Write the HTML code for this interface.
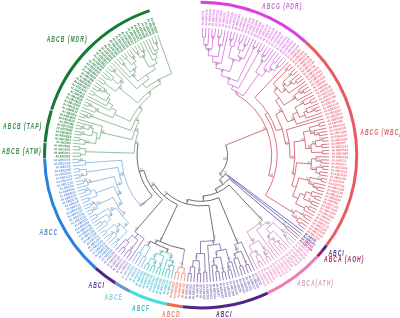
<!DOCTYPE html>
<html><head><meta charset="utf-8"><style>html,body{margin:0;padding:0;background:#fff;width:400px;height:318px;overflow:hidden}svg{display:block;filter:blur(0.3px)}</style></head><body>
<svg width="400" height="318" viewBox="0 0 400 318">
<rect width="400" height="318" fill="#fff"/>
<path d="M202.41 37.15L202.53 27.85M205.43 37.22L205.79 27.93M202.41 37.15A119.06 117.91 0 0 1 205.43 37.22M203.73 44.65L203.92 37.18M207.98 44.84L209.05 28.09M203.73 44.65A111.51 110.44 0 0 1 207.98 44.84M211.56 36.6L212.3 28.34M214.59 36.91L215.55 28.66M211.56 36.6A120.07 118.92 0 0 1 214.59 36.91M205.68 48.63L205.85 44.72M211.81 49.08L213.08 36.75M205.68 48.63A107.56 106.52 0 0 1 211.81 49.08M217.72 36.55L218.78 29.07M220.76 37.01L222.01 29.56M217.72 36.55A120.83 119.66 0 0 1 220.76 37.01M218.01 44.73L219.24 36.77M222.24 45.46L225.22 30.14M218.01 44.73A112.7 111.61 0 0 1 222.24 45.46M208.24 55.64L208.75 48.81M218.07 56.84L220.13 45.08M208.24 55.64A100.64 99.67 0 0 1 218.07 56.84M212.45 61.94L213.17 56.12M221.19 63.41L228.42 30.79M212.45 61.94A94.73 93.81 0 0 1 221.19 63.41M229.68 39.22L231.59 31.52M232.64 39.98L234.75 32.33M229.68 39.22A120.45 119.29 0 0 1 232.64 39.98M229.59 45.6L231.16 39.59M233.77 46.77L237.89 33.22M229.59 45.6A114.17 113.07 0 0 1 233.77 46.77M238.38 42.08L241 34.19M241.27 43.06L244.08 35.24M238.38 42.08A120.07 118.91 0 0 1 241.27 43.06M243.99 44.45L247.14 36.36M246.81 45.57L250.17 37.57M243.99 44.45A119.7 118.54 0 0 1 246.81 45.57M237.56 49.12L239.83 42.56M242.94 51.1L245.4 45.01M237.56 49.12A113.07 111.98 0 0 1 242.94 51.1M237.92 56.33L240.26 50.08M244.17 58.86L253.17 38.84M237.92 56.33A106.33 105.31 0 0 1 244.17 58.86M228.44 57.65L231.69 46.17M239.47 61.4L241.06 57.54M228.44 57.65A102.13 101.14 0 0 1 239.47 61.4M215.87 68.17L216.84 62.57M229.75 71.68L234.01 59.37M215.87 68.17A88.99 88.13 0 0 1 229.75 71.68M253.03 46.63L256.13 40.19M255.8 47.98L259.06 41.62M253.03 46.63A121.25 120.08 0 0 1 255.8 47.98M221.32 75.72L222.88 69.65M237.39 81.59L254.42 47.3M221.32 75.72A82.67 81.87 0 0 1 237.39 81.59M258 50.36L261.95 43.12M260.66 51.83L264.8 44.69M258 50.36A120.14 118.98 0 0 1 260.66 51.83M227.53 83.54L229.51 78.24M238.33 88.46L259.34 51.09M227.53 83.54A76.96 76.22 0 0 1 238.33 88.46M262.47 54.7L267.61 46.33M265.03 56.28L270.37 48.05M262.47 54.7A118.57 117.43 0 0 1 265.03 56.28M261.07 59.74L263.76 55.48M264.69 62.07L273.09 49.83M261.07 59.74A113.5 112.41 0 0 1 264.69 62.07M272.5 61.31L278.4 53.59M274.88 63.14L280.97 55.58M272.5 61.31A118.68 117.54 0 0 1 274.88 63.14M277.08 65.19L283.5 57.62M279.36 67.13L285.97 59.73M277.08 65.19A118.48 117.34 0 0 1 279.36 67.13M269.71 67.3L273.7 62.22M274.12 70.87L278.23 66.15M269.71 67.3A112.19 111.11 0 0 1 274.12 70.87M263.72 68.31L275.77 51.68M269.15 72.43L271.94 69.06M263.72 68.31A107.78 106.75 0 0 1 269.15 72.43M255.52 72.09L262.89 60.89M261.74 76.44L266.47 70.33M255.52 72.09A100 99.04 0 0 1 261.74 76.44M231.45 89.19L233.03 85.79M243.17 95.89L258.67 74.21M231.45 89.19A73.18 72.47 0 0 1 243.17 95.89" stroke="#d868dc" stroke-width="0.8" fill="none"/>
<path d="M286.46 68.45L290.74 64.12M288.65 70.63L293.03 66.41M286.46 68.45A122.34 121.16 0 0 1 288.65 70.63M290.44 73.17L295.27 68.75M292.5 75.44L297.45 71.14M290.44 73.17A121.87 120.7 0 0 1 292.5 75.44M295.41 80.96L301.62 76.09M297.28 83.35L303.61 78.65M295.41 80.96A120.54 119.37 0 0 1 297.28 83.35M290.66 80.94L299.57 73.59M293.44 84.37L296.35 82.15M290.66 80.94A116.86 115.74 0 0 1 293.44 84.37M283.14 81.73L291.48 74.3M287.23 86.49L292.07 82.65M283.14 81.73A110.66 109.59 0 0 1 287.23 86.49M283.14 85.83L285.22 84.08M288.81 93.04L305.53 81.25M283.14 85.83A107.93 106.89 0 0 1 288.81 93.04M273.26 83.65L287.56 69.53M281.49 92.89L286.05 89.38M273.26 83.65A102.15 101.16 0 0 1 281.49 92.89M302.97 90.51L309.17 86.59M304.59 93.09L310.88 89.33M302.97 90.51A121.1 119.93 0 0 1 304.59 93.09M298.21 90.03L307.38 83.9M300.63 93.73L303.79 91.8M298.21 90.03A117.39 116.26 0 0 1 300.63 93.73M294.12 95.28L299.44 91.87M297.4 100.64L312.53 92.11M294.12 95.28A111.05 109.98 0 0 1 297.4 100.64M273.89 91.31L277.52 88.14M284.06 105L295.8 97.94M273.89 91.31A97.32 96.38 0 0 1 284.06 105M309.9 100.64L315.61 97.79M311.26 103.39L317.03 100.69M309.9 100.64A122.07 120.89 0 0 1 311.26 103.39M302.57 101.05L314.1 94.93M304.57 104.92L310.59 102.01M302.57 101.05A115.37 114.26 0 0 1 304.57 104.92M314.57 108.66L319.66 106.58M315.72 111.53L320.87 109.58M314.57 108.66A122.94 121.75 0 0 1 315.72 111.53M306.02 109.03L318.39 103.62M307.71 113.02L315.15 110.09M306.02 109.03A114.93 113.82 0 0 1 307.71 113.02M303.74 112.33L306.88 111.02M306.03 118.2L321.99 112.6M303.74 112.33A111.52 110.45 0 0 1 306.03 118.2M295.02 107.33L303.59 102.98M299.53 117.31L304.93 115.25M295.02 107.33A105.74 104.72 0 0 1 299.53 117.31M292.62 114.38L297.41 112.26M296.46 124.23L323.04 115.65M292.62 114.38A100.5 99.53 0 0 1 296.46 124.23M275.7 100.54L279.28 97.93M287.56 121.97L294.67 119.25M275.7 100.54A92.87 91.98 0 0 1 287.56 121.97M318.8 123.46L324.9 121.83M319.57 126.43L325.71 124.95M318.8 123.46A122.14 120.96 0 0 1 319.57 126.43M318.93 132.79L327.09 131.25M319.46 135.76L327.65 134.43M318.93 132.79A120.15 118.99 0 0 1 319.46 135.76M313.93 130.78L326.44 128.1M314.78 135.05L319.2 134.27M313.93 130.78A115.66 114.54 0 0 1 314.78 135.05M309.26 127.48L319.2 124.95M310.67 133.64L314.38 132.91M309.26 127.48A111.88 110.8 0 0 1 310.67 133.64M322.72 138.36L328.14 137.61M323.11 141.42L328.55 140.81M322.72 138.36A122.98 121.79 0 0 1 323.11 141.42M321.65 144.64L328.87 144.02M321.88 147.67L329.11 147.23M321.65 144.64A121.21 120.04 0 0 1 321.88 147.67M315.34 140.83L322.92 139.89M315.92 146.59L321.78 146.16M315.34 140.83A115.33 114.22 0 0 1 315.92 146.59M322.33 150.7L329.27 150.45M322.4 153.75L329.35 153.68M322.33 150.7A121.51 120.34 0 0 1 322.4 153.75M310.86 144.18L315.66 143.71M311.37 152.48L322.38 152.23M310.86 144.18A110.5 109.44 0 0 1 311.37 152.48M303.38 132.03L310.01 130.55M305.79 148.66L311.19 148.33M303.38 132.03A105.09 104.07 0 0 1 305.79 148.66M321.31 159.81L329.25 160.12M321.15 162.83L329.08 163.34M321.31 159.81A120.5 119.34 0 0 1 321.15 162.83M316.15 156.71L329.34 156.9M316.01 161.05L321.23 161.32M316.15 156.71A115.27 114.16 0 0 1 316.01 161.05M323.08 166.04L328.83 166.55M322.76 169.1L328.49 169.76M323.08 166.04A122.68 121.5 0 0 1 322.76 169.1M319.84 171.8L328.07 172.96M319.38 174.78L327.57 176.14M319.84 171.8A120.14 118.98 0 0 1 319.38 174.78M316.65 166.92L322.93 167.57M315.89 172.72L319.62 173.29M316.65 166.92A116.37 115.25 0 0 1 315.89 172.72M311.64 158.73L316.1 158.88M310.79 169.12L316.31 169.82M311.64 158.73A110.8 109.74 0 0 1 310.79 169.12M321.83 178.32L326.99 179.31M321.19 181.34L326.33 182.47M321.83 178.32A123.19 122 0 0 1 321.19 181.34M317.79 186.83L324.77 188.73M316.94 189.75L323.87 191.82M317.79 186.83A121.21 120.05 0 0 1 316.94 189.75M313.94 182.75L325.59 185.61M312.8 186.99L317.37 188.29M313.94 182.75A116.45 115.33 0 0 1 312.8 186.99M310.05 177.48L321.52 179.83M308.58 183.6L313.39 184.87M310.05 177.48A111.48 110.4 0 0 1 308.58 183.6M315.65 195.75L321.83 197.94M314.57 198.62L320.69 200.96M315.65 195.75A121.88 120.71 0 0 1 314.57 198.62M312.21 191.41L322.89 194.9M310.73 195.57L315.12 197.19M312.21 191.41A117.2 116.07 0 0 1 310.73 195.57M312.07 200.9L319.48 203.96M310.87 203.68L318.19 206.92M312.07 200.9A120.43 119.27 0 0 1 310.87 203.68M306.32 191.7L311.49 193.49M303.49 198.88L311.48 202.29M306.32 191.7A111.73 110.65 0 0 1 303.49 198.88M309.43 206.34L316.83 209.84M308.08 209.05L315.39 212.73M309.43 206.34A120.25 119.09 0 0 1 308.08 209.05M305.66 206.19L308.76 207.7M303.62 210.09L313.88 215.59M305.66 206.19A116.79 115.66 0 0 1 303.62 210.09M300.21 193.47L304.97 195.31M295.62 203.52L304.66 208.15M300.21 193.47A106.62 105.59 0 0 1 295.62 203.52M298.81 178.07L309.36 180.55M292.59 196.11L298.05 198.56M298.81 178.07A100.63 99.66 0 0 1 292.59 196.11M296.64 162.75L311.34 163.93M291.81 185.78L296.14 187.24M296.64 162.75A96.06 95.13 0 0 1 291.81 185.78M293.91 141.86L304.92 140.3M292.9 173.99L294.95 174.41M293.91 141.86A93.96 93.06 0 0 1 292.9 173.99M286.39 129.83L324.01 118.73M290.06 157.82L294.82 157.97M286.39 129.83A89.2 88.34 0 0 1 290.06 157.82M275.87 114.38L282.35 110.86M285.67 144.15L289.36 143.68M275.87 114.38A85.48 84.65 0 0 1 285.67 144.15M254.87 97.58L288.38 61.9M276.25 130.73L282.17 128.81M254.87 97.58A79.25 78.48 0 0 1 276.25 130.73M305.32 214.44L312.29 218.4M303.77 217.04L310.64 221.18M305.32 214.44A120.42 119.26 0 0 1 303.77 217.04M300.56 222.18L307.11 226.6M298.81 224.66L305.25 229.24M300.56 222.18A120.53 119.36 0 0 1 298.81 224.66M299.01 217.6L308.91 223.91M296.54 221.24L299.69 223.43M299.01 217.6A116.68 115.56 0 0 1 296.54 221.24M295.56 210.48L304.56 215.74M292.22 215.73L297.79 219.43M295.56 210.48A109.97 108.91 0 0 1 292.22 215.73M265.2 114.38L267.69 112.81M265.44 195.34L293.93 213.13M265.2 114.38A76.29 75.56 0 0 1 265.44 195.34" stroke="#cf5262" stroke-width="0.8" fill="none"/>
<path d="M227.61 175.04L303.39 231.74M227.13 175.65L301.53 234.11M227.61 175.04A33.48 33.15 0 0 1 227.13 175.65M225.52 173.93L227.37 175.35" stroke="#5050b0" stroke-width="0.8" fill="none"/>
<path d="M287.15 225.97L299.73 236.31M285.63 227.74L297.99 238.34M287.15 225.97A112.1 111.02 0 0 1 285.63 227.74" stroke="#a04890" stroke-width="0.8" fill="none"/>
<path d="M288.31 237.68L293.82 242.89M286.18 239.83L291.56 245.18M288.31 237.68A120.84 119.68 0 0 1 286.18 239.83M286.23 231.73L296.03 240.54M283.24 234.87L287.26 238.76M286.23 231.73A115.22 114.11 0 0 1 283.24 234.87M281.49 243.68L286.86 249.58M279.21 245.67L284.42 251.7M281.49 243.68A120.43 119.27 0 0 1 279.21 245.67M276.85 240.73L280.36 244.68M273.53 243.51L281.94 253.75M276.85 240.73A115.13 114.02 0 0 1 273.53 243.51M272.21 238.62L275.21 242.14M268.42 241.66L279.4 255.74M272.21 238.62A110.48 109.42 0 0 1 268.42 241.66M273.44 230.9L289.23 247.41M267.19 236.31L270.33 240.16M273.44 230.9A105.49 104.47 0 0 1 267.19 236.31M273.31 222.64L284.75 233.32M266.43 229.2L270.37 233.67M273.31 222.64A99.5 98.54 0 0 1 266.43 229.2M266.13 222.08L269.95 226M256.45 230.14L276.82 257.67M266.13 222.08A94 93.09 0 0 1 256.45 230.14M268.19 256.35L271.5 261.33M265.59 257.99L268.77 263.06M268.19 256.35A122.43 121.25 0 0 1 265.59 257.99M267.13 249.49L274.18 259.53M263.48 251.9L266.9 257.18M267.13 249.49A116.1 114.98 0 0 1 263.48 251.9M260.33 261.19L263.19 266.3M257.61 262.64L260.34 267.82M260.33 261.19A122.55 121.37 0 0 1 257.61 262.64M259.71 254.12L266 264.71M255.89 256.25L258.97 261.92M259.71 254.12A116.04 114.92 0 0 1 255.89 256.25M255.33 250.83L257.81 255.2M249.76 253.73L257.46 269.27M255.33 250.83A110.97 109.9 0 0 1 249.76 253.73M258.4 240.43L265.32 250.71M249.14 245.88L252.56 252.32M258.4 240.43A103.62 102.63 0 0 1 249.14 245.88M259.05 223.48L261.43 226.27M247.04 231.93L253.84 243.27M262.49 220.46A90.31 89.44 0 0 1 247.04 231.93" stroke="#d888c0" stroke-width="0.8" fill="none"/>
<path d="M248.15 264.18L251.53 271.97M245.33 265.34L248.5 273.21M248.15 264.18A119.9 118.74 0 0 1 245.33 265.34M242.22 265.71L245.45 274.37M239.36 266.71L242.37 275.45M242.22 265.71A119.13 117.98 0 0 1 239.36 266.71M237.72 257.68L240.79 266.22M233.74 258.99L239.26 276.46M237.72 257.68A109.97 108.91 0 0 1 233.74 258.99M241.05 251.13L246.75 264.77M234.16 253.68L235.74 258.35M241.05 251.13A105 103.99 0 0 1 234.16 253.68M241.19 241.93L254.52 270.65M234.67 244.61L237.63 252.47M241.19 241.93A96.53 95.6 0 0 1 234.67 244.61M230.7 269.53L232.97 278.24M227.75 270.25L229.79 279.01M230.7 269.53A119.38 118.23 0 0 1 227.75 270.25M231.6 261.66L236.13 277.39M227.46 262.75L229.23 269.9M231.6 261.66A111.94 110.86 0 0 1 227.46 262.75M224.94 271.68L226.59 279.69M221.94 272.25L223.38 280.3M224.94 271.68A120.2 119.04 0 0 1 221.94 272.25M218.7 271.31L220.15 280.83M215.7 271.72L216.91 281.27M218.7 271.31A118.73 117.59 0 0 1 215.7 271.72M216.28 264.98L217.2 271.53M212.03 265.48L213.66 281.64M216.28 264.98A112.06 110.98 0 0 1 212.03 265.48M220.58 257.12L223.44 271.98M213.32 258.23L214.16 265.25M220.58 257.12A104.92 103.91 0 0 1 213.32 258.23M226.03 249.09L229.54 262.22M215.93 251.19L216.96 257.74M226.03 249.09A98.23 97.28 0 0 1 215.93 251.19M219.64 243.81L221.01 250.27M207.67 245.48L210.4 281.92M219.64 243.81A91.56 90.68 0 0 1 207.67 245.48M206.65 272.11L207.14 282.11M203.64 272.21L203.87 282.23M206.65 272.11A118.33 117.19 0 0 1 203.64 272.21M200.62 273.31L200.6 282.26M197.58 273.27L197.33 282.22M200.62 273.31A119.41 118.26 0 0 1 197.58 273.27M191.45 273.72L190.8 281.87M188.4 273.44L187.54 281.57M191.45 273.72A120.19 119.04 0 0 1 188.4 273.44M194.87 267.12L194.06 282.08M190.55 266.81L189.92 273.59M194.87 267.12A113.32 112.23 0 0 1 190.55 266.81M199.29 260.84L199.1 273.3M193.17 260.58L192.71 266.98M199.29 260.84A106.84 105.81 0 0 1 193.17 260.58M204.47 253.61L205.14 272.17M196.55 253.58L196.23 260.76M204.47 253.61A99.58 98.62 0 0 1 196.55 253.58M213.08 240.56L213.69 244.84M200.56 241.4L200.51 253.67M214.54 240.34A87.19 86.35 0 0 1 200.56 241.4" stroke="#7a62a6" stroke-width="0.8" fill="none"/>
<path d="M185.23 273.76L184.24 281.19M182.09 273.31L180.92 280.72M185.23 273.76A120.89 119.72 0 0 1 182.09 273.31M179.02 272.56L177.6 280.15M175.92 271.96L174.3 279.51M179.02 272.56A120.66 119.5 0 0 1 175.92 271.96M184.47 267.99L183.66 273.55M178.52 266.98L177.46 272.27M184.47 267.99A115.22 114.11 0 0 1 178.52 266.98" stroke="#ec8a78" stroke-width="0.8" fill="none"/>
<path d="M170.11 269.97L167.96 278.01M167.2 269.17L164.85 277.15M170.11 269.97A120.05 118.9 0 0 1 167.2 269.17M174.14 266.13L171.09 278.79M169.93 265.05L168.66 269.58M174.14 266.13A115.31 114.2 0 0 1 169.93 265.05M173.15 261.32L172.03 265.61M167.13 259.59L161.76 276.22M173.15 261.32A110.83 109.76 0 0 1 167.13 259.59M161.09 268.38L158.7 275.2M158.23 267.36L155.66 274.12M161.09 268.38A121.16 119.99 0 0 1 158.23 267.36M155.21 266.7L152.66 272.95M152.4 265.53L149.68 271.71M155.21 266.7A121.64 120.47 0 0 1 152.4 265.53M149.45 264.63L146.74 270.4M146.68 263.31L143.83 269.02M149.45 264.63A122.02 120.84 0 0 1 146.68 263.31M156.21 260.44L153.8 266.12M150.92 258.08L148.06 263.98M156.21 260.44A115.42 114.31 0 0 1 150.92 258.08M163.93 256.2L159.66 267.88M156.34 253.15L153.55 259.29M163.93 256.2A108.62 107.57 0 0 1 156.34 253.15M171.94 254.3L170.13 260.5M161.72 250.8L160.11 254.74M171.94 254.3A104.32 103.31 0 0 1 161.72 250.8" stroke="#38c8c8" stroke-width="0.8" fill="none"/>
<path d="M146.19 257.55L140.87 267.52M143.45 256.07L137.87 265.9M146.19 257.55A117.07 115.94 0 0 1 143.45 256.07M141.26 253.69L134.91 264.19M138.63 252.08L132 262.42M141.26 253.69A116.09 114.97 0 0 1 138.63 252.08M150.18 247.09L144.81 256.82M145.3 244.29L139.94 252.89M150.18 247.09A105.88 104.86 0 0 1 145.3 244.29" stroke="#70b0d8" stroke-width="0.8" fill="none"/>
<path d="M131.4 251.64L126.35 258.65M128.84 249.78L123.61 256.66M131.4 251.64A119.76 118.61 0 0 1 128.84 249.78M125.32 249.12L120.92 254.6M122.83 247.11L118.29 252.47M125.32 249.12A121.39 120.22 0 0 1 122.83 247.11M128.95 242.21L124.07 248.12M125.52 239.31L115.71 250.27M128.95 242.21A113.67 112.58 0 0 1 125.52 239.31M138.05 240L130.11 250.72M131.97 235.24L127.22 240.77M138.05 240A106.34 105.31 0 0 1 131.97 235.24M144.11 238.57L129.15 260.57M137.86 234.05L134.97 237.68M144.11 238.57A101.67 100.69 0 0 1 134.87 231.62" stroke="#8a6ab4" stroke-width="0.8" fill="none"/>
<path d="M117.52 243.53L113.25 248.05M115.28 241.41L110.91 245.83M117.52 243.53A122.21 121.03 0 0 1 115.28 241.41M111.38 236.64L106.38 241.2M109.33 234.37L104.21 238.8M111.38 236.64A121.66 120.49 0 0 1 109.33 234.37M117.17 235.33L108.62 243.54M114.16 232.13L110.35 235.51M117.17 235.33A116.54 115.42 0 0 1 114.16 232.13M106.7 232.57L102.1 236.35M104.75 230.18L100.06 233.85M106.7 232.57A122.47 121.29 0 0 1 104.75 230.18M119.5 230.19L115.65 233.75M114.42 224.4L105.72 231.38M119.5 230.19A111.27 110.2 0 0 1 114.42 224.4M127.16 231.34L116.39 242.48M120.41 224.33L116.91 227.34M127.16 231.34A106.63 105.61 0 0 1 120.41 224.33M102.8 224.03L96.16 228.7M101.07 221.55L94.31 226.05M102.8 224.03A120.31 119.15 0 0 1 101.07 221.55M107.72 224.15L98.08 231.3M105.14 220.6L101.93 222.79M107.72 224.15A116.4 115.28 0 0 1 105.14 220.6M110.57 219.42L106.41 222.38M107.01 214.23L92.53 223.36M110.57 219.42A111.29 110.22 0 0 1 107.01 214.23M97.35 216.73L90.82 220.62M95.8 214.12L89.18 217.84M97.35 216.73A120.84 119.68 0 0 1 95.8 214.12M112.27 214.49L108.75 216.85M108.48 208.53L96.57 215.43M112.27 214.49A107.04 106.01 0 0 1 108.48 208.53M128.63 223.26L123.71 227.91M116.42 207.74L110.33 211.54M128.63 223.26A99.84 98.88 0 0 1 116.42 207.74M92.86 212.24L87.62 215.02M91.43 209.52L86.12 212.16M92.86 212.24A122.51 121.33 0 0 1 91.43 209.52M91.62 206.04L84.7 209.27M90.35 203.28L83.35 206.34M91.62 206.04A120.8 119.64 0 0 1 90.35 203.28M97.54 208.11L92.14 210.88M94.96 202.86L90.97 204.66M97.54 208.11A116.42 115.3 0 0 1 94.96 202.86M123.74 214.57L122.13 215.8M112.96 197.44L96.22 205.5M123.74 214.57A97.81 96.86 0 0 1 112.96 197.44M89.32 200.43L82.08 203.37M88.19 197.62L80.88 200.38M89.32 200.43A120.63 119.46 0 0 1 88.19 197.62M85.44 192.15L78.72 194.31M84.53 189.24L77.75 191.23M85.44 192.15A121.38 120.21 0 0 1 84.53 189.24M91.02 193.43L79.76 197.36M89.63 189.27L84.98 190.7M91.02 193.43A116.52 115.39 0 0 1 89.63 189.27M96.98 195.8L88.75 199.03M94.81 189.88L90.3 191.35M96.98 195.8A111.77 110.69 0 0 1 94.81 189.88M122.35 203.53L117.89 206.28M113.91 186.35L95.85 192.85M122.35 203.53A92.56 91.67 0 0 1 113.91 186.35M83.65 183.2L76.06 185.02M82.96 180.25L75.34 181.88M83.65 183.2A120.65 119.49 0 0 1 82.96 180.25M88.38 185.07L76.87 188.14M87.31 180.82L83.3 181.73M88.38 185.07A116.53 115.41 0 0 1 87.31 180.82M120.49 193.8L117.67 195.16M114.13 176.46L87.82 182.95M120.49 193.8A89.42 88.56 0 0 1 114.13 176.46M80.09 177.71L74.69 178.72M79.55 174.68L74.13 175.55M80.09 177.71A122.96 121.78 0 0 1 79.55 174.68M79.57 171.56L73.64 172.37M79.19 168.52L73.24 169.18M79.57 171.56A122.47 121.29 0 0 1 79.19 168.52M87.08 174.93L79.81 176.2M86.21 169.2L79.37 170.04M87.08 174.93A115.57 114.46 0 0 1 86.21 169.2M122.05 183.42L116.85 185.29M117.94 167.4L86.61 172.07M122.05 183.42A83.89 83.08 0 0 1 117.94 167.4M78.97 162.38L72.68 162.76M78.82 159.32L72.53 159.55M78.97 162.38A122.15 120.98 0 0 1 78.82 159.32M85.57 164.89L72.92 165.97M85.27 160.55L78.89 160.85M85.57 164.89A115.76 114.64 0 0 1 85.27 160.55M123.94 174.42L119.59 175.51M121.67 160.31L85.4 162.72M140.43 206.02A79.41 78.64 0 0 1 121.67 160.31" stroke="#80b0e0" stroke-width="0.8" fill="none"/>
<path d="M80.44 156.22L72.45 156.3M80.45 153.15L72.46 153.02M80.44 156.22A120.46 119.3 0 0 1 80.45 153.15M79.76 150.05L72.56 149.75M79.93 146.96L72.74 146.48M79.76 150.05A121.24 120.08 0 0 1 79.93 146.96M85.6 154.7L80.44 154.69M85.77 148.83L79.84 148.5M85.6 154.7A115.3 114.19 0 0 1 85.77 148.83M79.7 140.98L73.32 140.24M80.08 138.08L73.72 137.19M79.7 140.98A122.03 120.85 0 0 1 80.08 138.08M84.71 144.39L73 143.31M85.18 140.21L79.88 139.53M84.71 144.39A116.69 115.56 0 0 1 85.18 140.21M80.89 135.24L74.19 134.14M81.41 132.37L74.74 131.1M80.89 135.24A121.67 120.5 0 0 1 81.41 132.37M80.92 129.27L75.37 128.08M81.58 126.4L76.06 125.08M80.92 129.27A122.77 121.59 0 0 1 81.58 126.4M88.87 129.57L81.24 127.84M89.88 125.55L76.83 122.09M88.87 129.57A114.95 113.84 0 0 1 89.88 125.55M91.69 135.68L81.14 133.8M93.24 128.51L89.35 127.56M91.69 135.68A110.95 109.88 0 0 1 93.24 128.51M95.64 143.47L84.93 142.3M97.33 133.13L92.4 132.08M95.64 143.47A105.91 104.89 0 0 1 97.33 133.13M99.56 138.79L96.35 138.28M102.42 126.34L77.68 119.12M99.56 138.79A102.66 101.67 0 0 1 102.42 126.34M84.01 117.86L78.6 116.14M84.97 115L79.62 113.15M84.01 117.86A122.78 121.6 0 0 1 84.97 115M89.57 118.11L84.48 116.42M91.03 114.04L80.7 110.18M89.57 118.11A117.41 116.28 0 0 1 91.03 114.04M88.2 106.53L83.1 104.33M89.45 103.78L84.4 101.46M88.2 106.53A122.88 121.7 0 0 1 89.45 103.78M94.67 112.39L81.86 107.24M96.35 108.5L88.82 105.15M94.67 112.39A114.63 113.53 0 0 1 96.35 108.5M93.49 95.65L88.75 93.03M95.01 93.03L90.34 90.29M93.49 95.65A123.03 121.84 0 0 1 95.01 93.03M98.16 91.42L91.99 87.6M99.79 88.92L93.71 84.94M98.16 91.42A121.17 120 0 0 1 99.79 88.92M102.61 92.48L98.97 90.16M105.03 88.91L95.5 82.33M102.61 92.48A116.84 115.71 0 0 1 105.03 88.91M105.97 101.01L94.24 94.33M109.91 94.73L103.81 90.68M105.97 101.01A109.5 108.44 0 0 1 109.91 94.73M106.27 105.73L87.23 95.8M110.06 99.18L107.88 97.84M106.27 105.73A106.93 105.9 0 0 1 110.06 99.18M109.82 110.4L85.78 98.61M112.71 105.03L108.11 102.42M109.82 110.4A101.63 100.65 0 0 1 112.71 105.03M112.8 117.76L95.49 110.44M116.36 110.4L111.23 107.69M112.8 117.76A95.81 94.89 0 0 1 116.36 110.4M103.71 84.39L97.36 79.77M105.51 82.02L99.27 77.25M103.71 84.39A120.57 119.41 0 0 1 105.51 82.02M107.46 79.78L101.25 74.77M109.38 77.51L103.29 72.35M107.46 79.78A120.44 119.28 0 0 1 109.38 77.51M110.98 80.75L108.41 78.64M113.83 77.49L105.39 69.98M110.98 80.75A117.11 115.98 0 0 1 113.83 77.49M112.12 71.93L107.55 67.66M114.23 69.78L109.77 65.39M112.12 71.93A122.17 120.99 0 0 1 114.23 69.78M117.92 83.86L112.39 79.11M122.06 79.39L113.17 70.85M117.92 83.86A109.78 108.73 0 0 1 122.06 79.39M115.67 91.45L104.6 83.2M122.22 83.64L119.96 81.59M115.67 91.45A106.72 105.69 0 0 1 122.22 83.64M121.86 64.76L116.75 58.93M124.14 62.85L119.19 56.9M121.86 64.76A120.66 119.5 0 0 1 124.14 62.85M125.06 59.21L121.67 54.92M127.49 57.37L124.2 53M125.06 59.21A122.95 121.77 0 0 1 127.49 57.37M131.48 57.74L126.78 51.15M133.93 56.06L129.4 49.36M131.48 57.74A120.31 119.15 0 0 1 133.93 56.06M131.29 64.8L126.27 58.28M135.9 61.49L132.7 56.89M131.29 64.8A114.67 113.57 0 0 1 135.9 61.49M130.11 72.14L122.99 63.8M136.53 67.16L133.57 63.12M130.11 72.14A109.63 108.58 0 0 1 136.53 67.16M129.43 77.39L114.37 61.03M135.46 72.35L133.28 69.59M129.43 77.39A106.09 105.07 0 0 1 135.46 72.35M135.72 53.33L132.07 47.64M138.28 51.76L134.78 45.98M135.72 53.33A121.65 120.48 0 0 1 138.28 51.76M141.68 51.63L137.53 44.39M144.28 50.2L140.32 42.87M141.68 51.63A120.06 118.9 0 0 1 144.28 50.2M140.18 57.65L136.99 52.53M145.14 54.79L142.98 50.91M140.18 57.65A115.58 114.47 0 0 1 145.14 54.79M154.37 43.54L151.84 37.48M157.18 42.43L154.8 36.31M154.37 43.54A121.83 120.66 0 0 1 157.18 42.43M154.36 50.92L148.91 38.72M158.31 49.28L155.77 42.98M154.36 50.92A114.98 113.87 0 0 1 158.31 49.28M152.94 54.53L146.02 40.03M157.38 52.57L156.33 50.08M152.94 54.53A112.26 111.18 0 0 1 157.38 52.57M152.7 60.21L143.15 41.42M157.21 58.1L155.15 53.53M152.7 60.21A107.2 106.17 0 0 1 157.21 58.1M149.2 67.31L142.64 56.19M156.93 63.27L154.94 59.13M149.2 67.31A102.57 101.58 0 0 1 156.93 63.27M137.81 81.16L132.4 74.81M155.29 69.47L153.02 65.21M137.81 81.16A97.71 96.77 0 0 1 155.29 69.47M136.75 88.72L112.04 63.18M149.01 78.92L146.23 74.85M136.75 88.72A92.74 91.85 0 0 1 149.01 78.92M146.19 87.89L142.67 83.56M171.66 73.77L157.79 35.21M146.19 87.89A87.13 86.29 0 0 1 171.66 73.77M137.6 102.91L118.85 87.47M160.67 83.91L158.32 79.77M137.6 102.91A82.33 81.54 0 0 1 160.67 83.91M130.01 121.41L114.5 114.04M150.63 95.2L148.25 92.36M130.01 121.41A78.61 77.85 0 0 1 150.63 95.2M130.75 130.33L90.28 116.07M142.16 109.72L138.9 107.2M130.75 130.33A74.46 73.75 0 0 1 142.16 109.72M131.99 139.54L100.8 132.52M138.95 121.38L135.62 119.57M131.99 139.54A70.66 69.98 0 0 1 138.95 121.38M133.98 153.14L85.65 151.76M138.3 131.53L134.83 130.22M133.98 153.14A66.95 66.31 0 0 1 138.3 131.53" stroke="#7aae88" stroke-width="0.8" fill="none"/>
<path d="M236.32 94.29L237.49 92.29" stroke="#e070e2" stroke-width="0.8" fill="none"/>
<path d="M268.65 175.56L273.86 177.14" stroke="#dc5a66" stroke-width="0.8" fill="none"/>
<path d="M236.32 94.29A70.84 70.16 0 0 1 268.65 175.56M225.73 145.11L266.58 128.77" stroke="#c8505a" stroke-width="0.8" fill="none"/>
<path d="M168 249.19L166.78 252.68M150.38 241.19L147.72 245.72M168 249.19A100.58 99.61 0 0 1 150.38 241.19M157.07 240.23L155.24 243.81M184.64 249.29A96.53 95.6 0 0 1 157.07 240.23M152.29 196.03L140.43 206.02M152.29 196.03A63.84 63.22 0 0 1 138.03 144.07M162.47 199.61L134.87 231.62M143.8 170.41L139.3 171.63M162.47 199.61A59.17 58.6 0 0 1 143.8 170.41M177.54 204.66L160.1 241.7M154.21 184.34L150.92 186.4M177.54 204.66A55.27 54.74 0 0 1 154.21 184.34M208.94 205.31L214.54 240.34M166.97 193.26L164.4 196.16M208.94 205.31A51.38 50.89 0 0 1 166.97 193.26M218.78 197.79L237.84 243.38M187.9 199.48L186.6 203.92M218.78 197.79A46.71 46.26 0 0 1 187.9 199.48M229.04 184.94L262.49 220.46M203.18 195.85L203.48 201.24M229.04 184.94A41.26 40.86 0 0 1 203.18 195.85M215.43 188.81L217.08 192.64M229.16 178.79A37.06 36.7 0 0 1 215.43 188.81M219.38 179.88L222.89 184.59M225.52 173.93A31.14 30.84 0 0 1 219.38 179.88M219.61 174.03L222.66 177.11M225.73 145.11A26.78 26.52 0 0 1 219.61 174.03" stroke="#4a4a4a" stroke-width="0.8" fill="none"/>
<path d="M184.64 249.29L181.49 267.53" stroke="#8a70a8" stroke-width="0.8" fill="none"/>
<path d="M138.03 144.07L134.97 143.54" stroke="#6aa87a" stroke-width="0.8" fill="none"/>
<path d="M229.16 178.79L286.4 226.86" stroke="#5a48a8" stroke-width="0.8" fill="none"/>
<g font-family="Liberation Sans, sans-serif" font-size="2.6" fill="#7a8282" text-anchor="middle"><text x="205.75" y="47.03">76</text><text x="212.84" y="39.05">64</text><text x="208.58" y="51.12">100</text><text x="218.89" y="39.06">92</text><text x="219.73" y="47.36">87</text><text x="216.44" y="64.85">100</text><text x="230.58" y="41.83">98</text><text x="244.54" y="47.15">99</text><text x="240.18" y="59.69">64</text><text x="233.25" y="61.56">92</text><text x="222.31" y="71.89">87</text><text x="253.39" y="49.37">55</text><text x="228.7" y="80.41">99</text><text x="258.2" y="53.11">87</text><text x="262.52" y="57.44">100</text><text x="261.62" y="62.83">87</text><text x="276.7" y="67.91">55</text><text x="270.46" y="70.85">76</text><text x="265.05" y="72.17">98</text><text x="236.32" y="94.29">55</text><text x="285.91" y="71.16">98</text><text x="289.74" y="75.85">99</text><text x="290.25" y="84.09">98</text><text x="283.44" y="85.58">92</text><text x="284.21" y="90.8">98</text><text x="275.77" y="89.67">98</text><text x="301.8" y="93.02">100</text><text x="293.8" y="99.14">100</text><text x="301.51" y="104.03">87</text><text x="312.98" y="110.95">87</text><text x="292.49" y="120.09">98</text><text x="280.3" y="111.97">98</text><text x="316.9" y="134.68">76</text><text x="312.09" y="133.36">64</text><text x="320.6" y="140.17">87</text><text x="313.34" y="143.94">87</text><text x="308.86" y="148.47">98</text><text x="302.61" y="140.62">87</text><text x="318.9" y="161.2">55</text><text x="320.6" y="167.33">76</text><text x="313.99" y="169.53">100</text><text x="309.01" y="163.75">64</text><text x="319.23" y="179.36">55</text><text x="315.13" y="187.65">98</text><text x="311.13" y="184.28">98</text><text x="307.09" y="180.01">76</text><text x="309.33" y="201.38">99</text><text x="292.66" y="173.94">64</text><text x="292.48" y="157.9">76</text><text x="287.04" y="143.98">100</text><text x="302.54" y="214.57">64</text><text x="295.85" y="218.14">99</text><text x="291.95" y="211.9">76</text><text x="271.63" y="176.46">64</text><text x="225.52" y="173.93">76</text><text x="284.62" y="225.36">92</text><text x="285.59" y="237.15">64</text><text x="283.05" y="231.73">98</text><text x="278.82" y="242.94">92</text><text x="273.7" y="240.37">92</text><text x="268.86" y="238.36">98</text><text x="268.33" y="224.34">100</text><text x="259.92" y="224.5">76</text><text x="265.64" y="255.23">100</text><text x="264.03" y="248.78">64</text><text x="256.67" y="253.18">55</text><text x="252.65" y="241.28">100</text><text x="260.9" y="218.77">55</text><text x="245.85" y="262.63">64</text><text x="235" y="256.16">55</text><text x="236.81" y="250.3">100</text><text x="236.95" y="241.24">92</text><text x="228.67" y="267.65">100</text><text x="228.94" y="259.99">98</text><text x="223" y="269.7">87</text><text x="216.88" y="269.23">99</text><text x="213.89" y="262.95">87</text><text x="216.6" y="255.45">92</text><text x="213.36" y="242.55">64</text><text x="199.14" y="270.99">64</text><text x="196.33" y="258.45">76</text><text x="214.17" y="238.05">92</text><text x="181.88" y="265.25">99</text><text x="169.28" y="267.35">64</text><text x="172.61" y="263.37">76</text><text x="170.78" y="258.27">100</text><text x="160.45" y="265.7">55</text><text x="154.71" y="263.99">99</text><text x="154.51" y="257.19">87</text><text x="160.98" y="252.6">64</text><text x="167.55" y="250.5">64</text><text x="148.9" y="243.72">98</text><text x="131.49" y="248.86">64</text><text x="136.39" y="229.86">76</text><text x="118.01" y="240.81">99</text><text x="112.09" y="233.97">76</text><text x="117.36" y="232.17">64</text><text x="118.68" y="225.82">76</text><text x="125.4" y="226.31">98</text><text x="110.69" y="215.55">99</text><text x="112.3" y="210.31">98</text><text x="123.98" y="214.38">76</text><text x="94.21" y="209.82">92</text><text x="93.1" y="203.7">98</text><text x="98.32" y="204.49">100</text><text x="119.88" y="205.06">99</text><text x="87.21" y="190.01">55</text><text x="119.77" y="194.15">100</text><text x="85.57" y="181.21">87</text><text x="90.09" y="182.39">64</text><text x="119.05" y="184.5">76</text><text x="82.11" y="175.79">92</text><text x="121.86" y="174.95">55</text><text x="81.22" y="160.74">98</text><text x="142.21" y="204.52">100</text><text x="87.25" y="142.55">100</text><text x="83.44" y="134.21">92</text><text x="83.52" y="128.35">64</text><text x="91.62" y="128.12">87</text><text x="103.07" y="133.03">98</text><text x="86.69" y="117.16">98</text><text x="92.48" y="116.84">55</text><text x="90.95" y="106.1">99</text><text x="97.64" y="111.35">98</text><text x="100.93" y="91.41">55</text><text x="105.75" y="91.97">64</text><text x="114.84" y="72.46">98</text><text x="121.68" y="83.16">100</text><text x="120.64" y="88.95">55</text><text x="124.5" y="65.57">76</text><text x="134.02" y="58.8">98</text><text x="134.72" y="71.41">92</text><text x="133.91" y="76.58">98</text><text x="138.22" y="54.5">92</text><text x="144.1" y="52.93">92</text><text x="143.82" y="58.19">64</text><text x="156.64" y="45.12">92</text><text x="159.47" y="81.78">76</text><text x="149.75" y="94.14">76</text><text x="140.74" y="108.62">92</text><text x="137.67" y="120.68">55</text><text x="137.02" y="131.04">98</text><text x="137.27" y="143.94">99</text><text x="264.42" y="129.63">55</text><text x="156.3" y="241.75">98</text><text x="161.09" y="239.6">92</text><text x="141.55" y="171.02">64</text><text x="152.89" y="185.17">98</text><text x="165.94" y="194.42">99</text><text x="187.25" y="201.7">92</text><text x="203.35" y="198.93">76</text><text x="216.16" y="190.51">64</text><text x="221.5" y="182.73">99</text><text x="221.03" y="175.46">64</text><text x="224.82" y="160.02">100</text></g>
<g font-family="Liberation Sans, sans-serif" font-size="3.1" font-weight="bold" stroke-width="0.05" paint-order="stroke"><text x="202.56" y="25.53" transform="rotate(-89.27 202.56 25.53)" fill="#dc88e0" stroke="#dc88e0" text-anchor="start" dy="1.1">At ABCG4</text><text x="205.88" y="25.62" transform="rotate(-87.82 205.88 25.62)" fill="#dc88e0" stroke="#dc88e0" text-anchor="start" dy="1.1">At ABCG11</text><text x="209.2" y="25.78" transform="rotate(-86.36 209.2 25.78)" fill="#dc88e0" stroke="#dc88e0" text-anchor="start" dy="1.1">At ABCG18</text><text x="212.51" y="26.03" transform="rotate(-84.91 212.51 26.03)" fill="#dc88e0" stroke="#dc88e0" text-anchor="start" dy="1.1">At ABCG25</text><text x="215.82" y="26.37" transform="rotate(-83.45 215.82 26.37)" fill="#dc88e0" stroke="#dc88e0" text-anchor="start" dy="1.1">At ABCG32</text><text x="219.11" y="26.78" transform="rotate(-82 219.11 26.78)" fill="#dc88e0" stroke="#dc88e0" text-anchor="start" dy="1.1">At ABCG39</text><text x="222.39" y="27.28" transform="rotate(-80.54 222.39 27.28)" fill="#dc88e0" stroke="#dc88e0" text-anchor="start" dy="1.1">At ABCG6</text><text x="225.66" y="27.86" transform="rotate(-79.09 225.66 27.86)" fill="#dc88e0" stroke="#dc88e0" text-anchor="start" dy="1.1">At ABCG13</text><text x="228.92" y="28.53" transform="rotate(-77.63 228.92 28.53)" fill="#dc88e0" stroke="#dc88e0" text-anchor="start" dy="1.1">At ABCG20</text><text x="232.15" y="29.27" transform="rotate(-76.18 232.15 29.27)" fill="#dc88e0" stroke="#dc88e0" text-anchor="start" dy="1.1">At ABCG27</text><text x="235.37" y="30.1" transform="rotate(-74.72 235.37 30.1)" fill="#dc88e0" stroke="#dc88e0" text-anchor="start" dy="1.1">At ABCG34</text><text x="238.56" y="31.01" transform="rotate(-73.27 238.56 31.01)" fill="#dc88e0" stroke="#dc88e0" text-anchor="start" dy="1.1">At ABCG1</text><text x="241.73" y="31.99" transform="rotate(-71.81 241.73 31.99)" fill="#dc88e0" stroke="#dc88e0" text-anchor="start" dy="1.1">At ABCG8</text><text x="244.87" y="33.06" transform="rotate(-70.36 244.87 33.06)" fill="#dc88e0" stroke="#dc88e0" text-anchor="start" dy="1.1">At ABCG15</text><text x="247.98" y="34.21" transform="rotate(-68.9 247.98 34.21)" fill="#dc88e0" stroke="#dc88e0" text-anchor="start" dy="1.1">At ABCG22</text><text x="251.07" y="35.43" transform="rotate(-67.44 251.07 35.43)" fill="#dc88e0" stroke="#dc88e0" text-anchor="start" dy="1.1">At ABCG29</text><text x="254.12" y="36.73" transform="rotate(-65.99 254.12 36.73)" fill="#dc88e0" stroke="#dc88e0" text-anchor="start" dy="1.1">At ABCG36</text><text x="257.13" y="38.11" transform="rotate(-64.53 257.13 38.11)" fill="#dc88e0" stroke="#dc88e0" text-anchor="start" dy="1.1">At ABCG3</text><text x="260.12" y="39.56" transform="rotate(-63.08 260.12 39.56)" fill="#dc88e0" stroke="#dc88e0" text-anchor="start" dy="1.1">At ABCG10</text><text x="263.06" y="41.08" transform="rotate(-61.62 263.06 41.08)" fill="#dc88e0" stroke="#dc88e0" text-anchor="start" dy="1.1">At ABCG17</text><text x="265.96" y="42.68" transform="rotate(-60.17 265.96 42.68)" fill="#dc88e0" stroke="#dc88e0" text-anchor="start" dy="1.1">At ABCG24</text><text x="268.82" y="44.36" transform="rotate(-58.71 268.82 44.36)" fill="#dc88e0" stroke="#dc88e0" text-anchor="start" dy="1.1">At ABCG31</text><text x="271.64" y="46.1" transform="rotate(-57.26 271.64 46.1)" fill="#dc88e0" stroke="#dc88e0" text-anchor="start" dy="1.1">At ABCG38</text><text x="274.41" y="47.92" transform="rotate(-55.8 274.41 47.92)" fill="#dc88e0" stroke="#dc88e0" text-anchor="start" dy="1.1">At ABCG5</text><text x="277.13" y="49.8" transform="rotate(-54.35 277.13 49.8)" fill="#dc88e0" stroke="#dc88e0" text-anchor="start" dy="1.1">At ABCG12</text><text x="279.8" y="51.75" transform="rotate(-52.89 279.8 51.75)" fill="#dc88e0" stroke="#dc88e0" text-anchor="start" dy="1.1">At ABCG19</text><text x="282.43" y="53.77" transform="rotate(-51.44 282.43 53.77)" fill="#dc88e0" stroke="#dc88e0" text-anchor="start" dy="1.1">At ABCG26</text><text x="285" y="55.85" transform="rotate(-49.98 285 55.85)" fill="#dc88e0" stroke="#dc88e0" text-anchor="start" dy="1.1">At ABCG33</text><text x="287.52" y="58" transform="rotate(-48.53 287.52 58)" fill="#dc88e0" stroke="#dc88e0" text-anchor="start" dy="1.1">At ABCG40</text><text x="289.97" y="60.2" transform="rotate(-47.07 289.97 60.2)" fill="#ec7c8c" stroke="#ec7c8c" text-anchor="start" dy="1.1">At ABCG4</text><text x="292.37" y="62.47" transform="rotate(-45.62 292.37 62.47)" fill="#ec7c8c" stroke="#ec7c8c" text-anchor="start" dy="1.1">At ABCG11</text><text x="294.71" y="64.8" transform="rotate(-44.17 294.71 64.8)" fill="#ec7c8c" stroke="#ec7c8c" text-anchor="start" dy="1.1">At ABCG18</text><text x="296.99" y="67.18" transform="rotate(-42.72 296.99 67.18)" fill="#ec7c8c" stroke="#ec7c8c" text-anchor="start" dy="1.1">At ABCG25</text><text x="299.21" y="69.62" transform="rotate(-41.27 299.21 69.62)" fill="#ec7c8c" stroke="#ec7c8c" text-anchor="start" dy="1.1">At ABCG32</text><text x="301.36" y="72.11" transform="rotate(-39.82 301.36 72.11)" fill="#ec7c8c" stroke="#ec7c8c" text-anchor="start" dy="1.1">At ABCG39</text><text x="303.45" y="74.66" transform="rotate(-38.36 303.45 74.66)" fill="#ec7c8c" stroke="#ec7c8c" text-anchor="start" dy="1.1">At ABCG6</text><text x="305.47" y="77.26" transform="rotate(-36.91 305.47 77.26)" fill="#ec7c8c" stroke="#ec7c8c" text-anchor="start" dy="1.1">At ABCG13</text><text x="307.43" y="79.91" transform="rotate(-35.46 307.43 79.91)" fill="#ec7c8c" stroke="#ec7c8c" text-anchor="start" dy="1.1">At ABCG20</text><text x="309.32" y="82.6" transform="rotate(-34.01 309.32 82.6)" fill="#ec7c8c" stroke="#ec7c8c" text-anchor="start" dy="1.1">At ABCG27</text><text x="311.14" y="85.35" transform="rotate(-32.56 311.14 85.35)" fill="#ec7c8c" stroke="#ec7c8c" text-anchor="start" dy="1.1">At ABCG34</text><text x="312.88" y="88.13" transform="rotate(-31.11 312.88 88.13)" fill="#ec7c8c" stroke="#ec7c8c" text-anchor="start" dy="1.1">At ABCG1</text><text x="314.56" y="90.97" transform="rotate(-29.65 314.56 90.97)" fill="#ec7c8c" stroke="#ec7c8c" text-anchor="start" dy="1.1">At ABCG8</text><text x="316.16" y="93.84" transform="rotate(-28.2 316.16 93.84)" fill="#ec7c8c" stroke="#ec7c8c" text-anchor="start" dy="1.1">At ABCG15</text><text x="317.69" y="96.75" transform="rotate(-26.75 317.69 96.75)" fill="#ec7c8c" stroke="#ec7c8c" text-anchor="start" dy="1.1">At ABCG22</text><text x="319.14" y="99.7" transform="rotate(-25.3 319.14 99.7)" fill="#ec7c8c" stroke="#ec7c8c" text-anchor="start" dy="1.1">At ABCG29</text><text x="320.52" y="102.68" transform="rotate(-23.85 320.52 102.68)" fill="#ec7c8c" stroke="#ec7c8c" text-anchor="start" dy="1.1">At ABCG36</text><text x="321.82" y="105.7" transform="rotate(-22.39 321.82 105.7)" fill="#ec7c8c" stroke="#ec7c8c" text-anchor="start" dy="1.1">At ABCG3</text><text x="323.05" y="108.75" transform="rotate(-20.94 323.05 108.75)" fill="#ec7c8c" stroke="#ec7c8c" text-anchor="start" dy="1.1">At ABCG10</text><text x="324.19" y="111.83" transform="rotate(-19.49 324.19 111.83)" fill="#ec7c8c" stroke="#ec7c8c" text-anchor="start" dy="1.1">At ABCG17</text><text x="325.26" y="114.94" transform="rotate(-18.04 325.26 114.94)" fill="#ec7c8c" stroke="#ec7c8c" text-anchor="start" dy="1.1">At ABCG24</text><text x="326.24" y="118.07" transform="rotate(-16.59 326.24 118.07)" fill="#ec7c8c" stroke="#ec7c8c" text-anchor="start" dy="1.1">At ABCG31</text><text x="327.15" y="121.23" transform="rotate(-15.14 327.15 121.23)" fill="#ec7c8c" stroke="#ec7c8c" text-anchor="start" dy="1.1">At ABCG38</text><text x="327.98" y="124.41" transform="rotate(-13.68 327.98 124.41)" fill="#ec7c8c" stroke="#ec7c8c" text-anchor="start" dy="1.1">At ABCG5</text><text x="328.72" y="127.61" transform="rotate(-12.23 328.72 127.61)" fill="#ec7c8c" stroke="#ec7c8c" text-anchor="start" dy="1.1">At ABCG12</text><text x="329.38" y="130.82" transform="rotate(-10.78 329.38 130.82)" fill="#ec7c8c" stroke="#ec7c8c" text-anchor="start" dy="1.1">At ABCG19</text><text x="329.96" y="134.05" transform="rotate(-9.33 329.96 134.05)" fill="#ec7c8c" stroke="#ec7c8c" text-anchor="start" dy="1.1">At ABCG26</text><text x="330.45" y="137.3" transform="rotate(-7.88 330.45 137.3)" fill="#ec7c8c" stroke="#ec7c8c" text-anchor="start" dy="1.1">At ABCG33</text><text x="330.87" y="140.55" transform="rotate(-6.43 330.87 140.55)" fill="#ec7c8c" stroke="#ec7c8c" text-anchor="start" dy="1.1">At ABCG40</text><text x="331.2" y="143.82" transform="rotate(-4.97 331.2 143.82)" fill="#ec7c8c" stroke="#ec7c8c" text-anchor="start" dy="1.1">At ABCG7</text><text x="331.44" y="147.09" transform="rotate(-3.52 331.44 147.09)" fill="#ec7c8c" stroke="#ec7c8c" text-anchor="start" dy="1.1">At ABCG14</text><text x="331.6" y="150.37" transform="rotate(-2.07 331.6 150.37)" fill="#ec7c8c" stroke="#ec7c8c" text-anchor="start" dy="1.1">At ABCG21</text><text x="331.68" y="153.65" transform="rotate(-0.62 331.68 153.65)" fill="#ec7c8c" stroke="#ec7c8c" text-anchor="start" dy="1.1">At ABCG28</text><text x="331.67" y="156.93" transform="rotate(0.83 331.67 156.93)" fill="#ec7c8c" stroke="#ec7c8c" text-anchor="start" dy="1.1">At ABCG35</text><text x="331.58" y="160.21" transform="rotate(2.28 331.58 160.21)" fill="#ec7c8c" stroke="#ec7c8c" text-anchor="start" dy="1.1">At ABCG2</text><text x="331.41" y="163.49" transform="rotate(3.74 331.41 163.49)" fill="#ec7c8c" stroke="#ec7c8c" text-anchor="start" dy="1.1">At ABCG9</text><text x="331.15" y="166.76" transform="rotate(5.19 331.15 166.76)" fill="#ec7c8c" stroke="#ec7c8c" text-anchor="start" dy="1.1">At ABCG16</text><text x="330.81" y="170.03" transform="rotate(6.64 330.81 170.03)" fill="#ec7c8c" stroke="#ec7c8c" text-anchor="start" dy="1.1">At ABCG23</text><text x="330.39" y="173.28" transform="rotate(8.09 330.39 173.28)" fill="#ec7c8c" stroke="#ec7c8c" text-anchor="start" dy="1.1">At ABCG30</text><text x="329.88" y="176.52" transform="rotate(9.54 329.88 176.52)" fill="#ec7c8c" stroke="#ec7c8c" text-anchor="start" dy="1.1">At ABCG37</text><text x="329.29" y="179.75" transform="rotate(10.99 329.29 179.75)" fill="#ec7c8c" stroke="#ec7c8c" text-anchor="start" dy="1.1">At ABCG4</text><text x="328.61" y="182.97" transform="rotate(12.45 328.61 182.97)" fill="#ec7c8c" stroke="#ec7c8c" text-anchor="start" dy="1.1">At ABCG11</text><text x="327.86" y="186.16" transform="rotate(13.9 327.86 186.16)" fill="#ec7c8c" stroke="#ec7c8c" text-anchor="start" dy="1.1">At ABCG18</text><text x="327.02" y="189.34" transform="rotate(15.35 327.02 189.34)" fill="#ec7c8c" stroke="#ec7c8c" text-anchor="start" dy="1.1">At ABCG25</text><text x="326.1" y="192.49" transform="rotate(16.8 326.1 192.49)" fill="#ec7c8c" stroke="#ec7c8c" text-anchor="start" dy="1.1">At ABCG32</text><text x="325.11" y="195.62" transform="rotate(18.25 325.11 195.62)" fill="#ec7c8c" stroke="#ec7c8c" text-anchor="start" dy="1.1">At ABCG39</text><text x="324.03" y="198.72" transform="rotate(19.71 324.03 198.72)" fill="#ec7c8c" stroke="#ec7c8c" text-anchor="start" dy="1.1">At ABCG6</text><text x="322.87" y="201.8" transform="rotate(21.16 322.87 201.8)" fill="#ec7c8c" stroke="#ec7c8c" text-anchor="start" dy="1.1">At ABCG13</text><text x="321.64" y="204.84" transform="rotate(22.61 321.64 204.84)" fill="#ec7c8c" stroke="#ec7c8c" text-anchor="start" dy="1.1">At ABCG20</text><text x="320.32" y="207.86" transform="rotate(24.06 320.32 207.86)" fill="#ec7c8c" stroke="#ec7c8c" text-anchor="start" dy="1.1">At ABCG27</text><text x="318.94" y="210.84" transform="rotate(25.51 318.94 210.84)" fill="#ec7c8c" stroke="#ec7c8c" text-anchor="start" dy="1.1">At ABCG34</text><text x="317.47" y="213.78" transform="rotate(26.96 317.47 213.78)" fill="#ec7c8c" stroke="#ec7c8c" text-anchor="start" dy="1.1">At ABCG1</text><text x="315.93" y="216.69" transform="rotate(28.42 315.93 216.69)" fill="#ec7c8c" stroke="#ec7c8c" text-anchor="start" dy="1.1">At ABCG8</text><text x="314.32" y="219.55" transform="rotate(29.87 314.32 219.55)" fill="#ec7c8c" stroke="#ec7c8c" text-anchor="start" dy="1.1">At ABCG15</text><text x="312.63" y="222.38" transform="rotate(31.32 312.63 222.38)" fill="#ec7c8c" stroke="#ec7c8c" text-anchor="start" dy="1.1">At ABCG22</text><text x="310.87" y="225.16" transform="rotate(32.77 310.87 225.16)" fill="#ec7c8c" stroke="#ec7c8c" text-anchor="start" dy="1.1">At ABCG29</text><text x="309.04" y="227.9" transform="rotate(34.22 309.04 227.9)" fill="#ec7c8c" stroke="#ec7c8c" text-anchor="start" dy="1.1">At ABCG36</text><text x="307.15" y="230.59" transform="rotate(35.67 307.15 230.59)" fill="#ec7c8c" stroke="#ec7c8c" text-anchor="start" dy="1.1">At ABCG3</text><text x="305.25" y="233.14" transform="rotate(37.08 305.25 233.14)" fill="#5a4aa0" stroke="#5a4aa0" text-anchor="start" dy="1.1">At ABCI3</text><text x="303.36" y="235.55" transform="rotate(38.43 303.36 235.55)" fill="#5a4aa0" stroke="#5a4aa0" text-anchor="start" dy="1.1">At ABCI10</text><text x="301.53" y="237.79" transform="rotate(39.7 301.53 237.79)" fill="#b03078" stroke="#b03078" text-anchor="start" dy="1.1">At ABCA4</text><text x="299.76" y="239.86" transform="rotate(40.9 299.76 239.86)" fill="#b03078" stroke="#b03078" text-anchor="start" dy="1.1">At ABCA11</text><text x="297.75" y="242.09" transform="rotate(42.22 297.75 242.09)" fill="#e8a0cc" stroke="#e8a0cc" text-anchor="start" dy="1.1">At ABCA4</text><text x="295.51" y="244.48" transform="rotate(43.67 295.51 244.48)" fill="#e8a0cc" stroke="#e8a0cc" text-anchor="start" dy="1.1">At ABCA11</text><text x="293.2" y="246.81" transform="rotate(45.11 293.2 246.81)" fill="#e8a0cc" stroke="#e8a0cc" text-anchor="start" dy="1.1">At ABCA18</text><text x="290.84" y="249.09" transform="rotate(46.55 290.84 249.09)" fill="#e8a0cc" stroke="#e8a0cc" text-anchor="start" dy="1.1">At ABCA25</text><text x="288.42" y="251.3" transform="rotate(48 288.42 251.3)" fill="#e8a0cc" stroke="#e8a0cc" text-anchor="start" dy="1.1">At ABCA32</text><text x="285.94" y="253.46" transform="rotate(49.44 285.94 253.46)" fill="#e8a0cc" stroke="#e8a0cc" text-anchor="start" dy="1.1">At ABCA39</text><text x="283.41" y="255.55" transform="rotate(50.88 283.41 255.55)" fill="#e8a0cc" stroke="#e8a0cc" text-anchor="start" dy="1.1">At ABCA6</text><text x="280.83" y="257.57" transform="rotate(52.33 280.83 257.57)" fill="#e8a0cc" stroke="#e8a0cc" text-anchor="start" dy="1.1">At ABCA13</text><text x="278.2" y="259.54" transform="rotate(53.77 278.2 259.54)" fill="#e8a0cc" stroke="#e8a0cc" text-anchor="start" dy="1.1">At ABCA20</text><text x="275.51" y="261.43" transform="rotate(55.22 275.51 261.43)" fill="#e8a0cc" stroke="#e8a0cc" text-anchor="start" dy="1.1">At ABCA27</text><text x="272.78" y="263.26" transform="rotate(56.66 272.78 263.26)" fill="#e8a0cc" stroke="#e8a0cc" text-anchor="start" dy="1.1">At ABCA34</text><text x="270.01" y="265.02" transform="rotate(58.1 270.01 265.02)" fill="#e8a0cc" stroke="#e8a0cc" text-anchor="start" dy="1.1">At ABCA1</text><text x="267.19" y="266.71" transform="rotate(59.55 267.19 266.71)" fill="#e8a0cc" stroke="#e8a0cc" text-anchor="start" dy="1.1">At ABCA8</text><text x="264.33" y="268.33" transform="rotate(60.99 264.33 268.33)" fill="#e8a0cc" stroke="#e8a0cc" text-anchor="start" dy="1.1">At ABCA15</text><text x="261.42" y="269.87" transform="rotate(62.43 261.42 269.87)" fill="#e8a0cc" stroke="#e8a0cc" text-anchor="start" dy="1.1">At ABCA22</text><text x="258.48" y="271.35" transform="rotate(63.88 258.48 271.35)" fill="#e8a0cc" stroke="#e8a0cc" text-anchor="start" dy="1.1">At ABCA29</text><text x="255.49" y="272.76" transform="rotate(65.33 255.49 272.76)" fill="#9280bc" stroke="#9280bc" text-anchor="start" dy="1.1">At ABCI3</text><text x="252.45" y="274.09" transform="rotate(66.79 252.45 274.09)" fill="#9280bc" stroke="#9280bc" text-anchor="start" dy="1.1">At ABCI10</text><text x="249.37" y="275.35" transform="rotate(68.25 249.37 275.35)" fill="#9280bc" stroke="#9280bc" text-anchor="start" dy="1.1">At ABCI17</text><text x="246.26" y="276.54" transform="rotate(69.71 246.26 276.54)" fill="#9280bc" stroke="#9280bc" text-anchor="start" dy="1.1">At ABCI24</text><text x="243.12" y="277.64" transform="rotate(71.17 243.12 277.64)" fill="#9280bc" stroke="#9280bc" text-anchor="start" dy="1.1">At ABCI31</text><text x="239.96" y="278.67" transform="rotate(72.62 239.96 278.67)" fill="#9280bc" stroke="#9280bc" text-anchor="start" dy="1.1">At ABCI38</text><text x="236.77" y="279.61" transform="rotate(74.08 236.77 279.61)" fill="#9280bc" stroke="#9280bc" text-anchor="start" dy="1.1">At ABCI5</text><text x="233.55" y="280.48" transform="rotate(75.54 233.55 280.48)" fill="#9280bc" stroke="#9280bc" text-anchor="start" dy="1.1">At ABCI12</text><text x="230.32" y="281.26" transform="rotate(77 230.32 281.26)" fill="#9280bc" stroke="#9280bc" text-anchor="start" dy="1.1">At ABCI19</text><text x="227.06" y="281.96" transform="rotate(78.46 227.06 281.96)" fill="#9280bc" stroke="#9280bc" text-anchor="start" dy="1.1">At ABCI26</text><text x="223.79" y="282.58" transform="rotate(79.92 223.79 282.58)" fill="#9280bc" stroke="#9280bc" text-anchor="start" dy="1.1">At ABCI33</text><text x="220.5" y="283.11" transform="rotate(81.38 220.5 283.11)" fill="#9280bc" stroke="#9280bc" text-anchor="start" dy="1.1">At ABCI40</text><text x="217.2" y="283.57" transform="rotate(82.84 217.2 283.57)" fill="#9280bc" stroke="#9280bc" text-anchor="start" dy="1.1">At ABCI7</text><text x="213.89" y="283.94" transform="rotate(84.3 213.89 283.94)" fill="#9280bc" stroke="#9280bc" text-anchor="start" dy="1.1">At ABCI14</text><text x="210.58" y="284.22" transform="rotate(85.76 210.58 284.22)" fill="#9280bc" stroke="#9280bc" text-anchor="start" dy="1.1">At ABCI21</text><text x="207.25" y="284.43" transform="rotate(87.22 207.25 284.43)" fill="#9280bc" stroke="#9280bc" text-anchor="start" dy="1.1">At ABCI28</text><text x="203.92" y="284.54" transform="rotate(88.67 203.92 284.54)" fill="#9280bc" stroke="#9280bc" text-anchor="start" dy="1.1">At ABCI35</text><text x="200.59" y="284.58" transform="rotate(270.13 200.59 284.58)" fill="#9280bc" stroke="#9280bc" text-anchor="end" dy="1.1">At ABCI2</text><text x="197.26" y="284.53" transform="rotate(271.59 197.26 284.53)" fill="#9280bc" stroke="#9280bc" text-anchor="end" dy="1.1">At ABCI9</text><text x="193.94" y="284.39" transform="rotate(273.05 193.94 284.39)" fill="#9280bc" stroke="#9280bc" text-anchor="end" dy="1.1">At ABCI16</text><text x="190.61" y="284.18" transform="rotate(274.51 190.61 284.18)" fill="#9280bc" stroke="#9280bc" text-anchor="end" dy="1.1">At ABCI23</text><text x="187.3" y="283.88" transform="rotate(275.97 187.3 283.88)" fill="#9280bc" stroke="#9280bc" text-anchor="end" dy="1.1">At ABCI30</text><text x="183.94" y="283.48" transform="rotate(277.45 183.94 283.48)" fill="#f0806e" stroke="#f0806e" text-anchor="end" dy="1.1">At ABCD2</text><text x="180.55" y="283" transform="rotate(278.95 180.55 283)" fill="#f0806e" stroke="#f0806e" text-anchor="end" dy="1.1">At ABCD9</text><text x="177.18" y="282.43" transform="rotate(280.45 177.18 282.43)" fill="#f0806e" stroke="#f0806e" text-anchor="end" dy="1.1">At ABCD16</text><text x="173.82" y="281.77" transform="rotate(281.95 173.82 281.77)" fill="#f0806e" stroke="#f0806e" text-anchor="end" dy="1.1">At ABCD23</text><text x="170.55" y="281.04" transform="rotate(283.42 170.55 281.04)" fill="#50c8d2" stroke="#50c8d2" text-anchor="end" dy="1.1">At ABCF2</text><text x="167.36" y="280.25" transform="rotate(284.86 167.36 280.25)" fill="#50c8d2" stroke="#50c8d2" text-anchor="end" dy="1.1">At ABCF9</text><text x="164.19" y="279.37" transform="rotate(286.3 164.19 279.37)" fill="#50c8d2" stroke="#50c8d2" text-anchor="end" dy="1.1">At ABCF16</text><text x="161.05" y="278.42" transform="rotate(287.74 161.05 278.42)" fill="#50c8d2" stroke="#50c8d2" text-anchor="end" dy="1.1">At ABCF23</text><text x="157.93" y="277.39" transform="rotate(289.18 157.93 277.39)" fill="#50c8d2" stroke="#50c8d2" text-anchor="end" dy="1.1">At ABCF30</text><text x="154.84" y="276.28" transform="rotate(290.62 154.84 276.28)" fill="#50c8d2" stroke="#50c8d2" text-anchor="end" dy="1.1">At ABCF37</text><text x="151.78" y="275.1" transform="rotate(292.06 151.78 275.1)" fill="#50c8d2" stroke="#50c8d2" text-anchor="end" dy="1.1">At ABCF4</text><text x="148.75" y="273.83" transform="rotate(293.5 148.75 273.83)" fill="#50c8d2" stroke="#50c8d2" text-anchor="end" dy="1.1">At ABCF11</text><text x="145.75" y="272.5" transform="rotate(294.94 145.75 272.5)" fill="#50c8d2" stroke="#50c8d2" text-anchor="end" dy="1.1">At ABCF18</text><text x="142.79" y="271.09" transform="rotate(296.38 142.79 271.09)" fill="#50c8d2" stroke="#50c8d2" text-anchor="end" dy="1.1">At ABCF25</text><text x="139.78" y="269.56" transform="rotate(297.86 139.78 269.56)" fill="#88bce0" stroke="#88bce0" text-anchor="end" dy="1.1">At ABCE2</text><text x="136.72" y="267.91" transform="rotate(299.39 136.72 267.91)" fill="#88bce0" stroke="#88bce0" text-anchor="end" dy="1.1">At ABCE9</text><text x="133.71" y="266.18" transform="rotate(300.91 133.71 266.18)" fill="#88bce0" stroke="#88bce0" text-anchor="end" dy="1.1">At ABCE16</text><text x="130.75" y="264.37" transform="rotate(302.44 130.75 264.37)" fill="#88bce0" stroke="#88bce0" text-anchor="end" dy="1.1">At ABCE23</text><text x="127.84" y="262.49" transform="rotate(303.96 127.84 262.49)" fill="#a88ec8" stroke="#a88ec8" text-anchor="end" dy="1.1">At ABCI3</text><text x="125" y="260.53" transform="rotate(305.48 125 260.53)" fill="#a88ec8" stroke="#a88ec8" text-anchor="end" dy="1.1">At ABCI10</text><text x="122.21" y="258.51" transform="rotate(306.99 122.21 258.51)" fill="#a88ec8" stroke="#a88ec8" text-anchor="end" dy="1.1">At ABCI17</text><text x="119.47" y="256.41" transform="rotate(308.51 119.47 256.41)" fill="#a88ec8" stroke="#a88ec8" text-anchor="end" dy="1.1">At ABCI24</text><text x="116.79" y="254.24" transform="rotate(310.02 116.79 254.24)" fill="#a88ec8" stroke="#a88ec8" text-anchor="end" dy="1.1">At ABCI31</text><text x="114.17" y="252" transform="rotate(311.54 114.17 252)" fill="#a88ec8" stroke="#a88ec8" text-anchor="end" dy="1.1">At ABCI38</text><text x="111.66" y="249.74" transform="rotate(313.02 111.66 249.74)" fill="#6f9ee0" stroke="#6f9ee0" text-anchor="end" dy="1.1">At ABCC2</text><text x="109.27" y="247.48" transform="rotate(314.48 109.27 247.48)" fill="#6f9ee0" stroke="#6f9ee0" text-anchor="end" dy="1.1">At ABCC9</text><text x="106.94" y="245.15" transform="rotate(315.93 106.94 245.15)" fill="#6f9ee0" stroke="#6f9ee0" text-anchor="end" dy="1.1">At ABCC16</text><text x="104.67" y="242.77" transform="rotate(317.38 104.67 242.77)" fill="#6f9ee0" stroke="#6f9ee0" text-anchor="end" dy="1.1">At ABCC23</text><text x="102.46" y="240.33" transform="rotate(318.83 102.46 240.33)" fill="#6f9ee0" stroke="#6f9ee0" text-anchor="end" dy="1.1">At ABCC30</text><text x="100.31" y="237.83" transform="rotate(320.27 100.31 237.83)" fill="#6f9ee0" stroke="#6f9ee0" text-anchor="end" dy="1.1">At ABCC37</text><text x="98.23" y="235.28" transform="rotate(321.73 98.23 235.28)" fill="#6f9ee0" stroke="#6f9ee0" text-anchor="end" dy="1.1">At ABCC4</text><text x="96.21" y="232.69" transform="rotate(323.18 96.21 232.69)" fill="#6f9ee0" stroke="#6f9ee0" text-anchor="end" dy="1.1">At ABCC11</text><text x="94.26" y="230.04" transform="rotate(324.62 94.26 230.04)" fill="#6f9ee0" stroke="#6f9ee0" text-anchor="end" dy="1.1">At ABCC18</text><text x="92.38" y="227.34" transform="rotate(326.08 92.38 227.34)" fill="#6f9ee0" stroke="#6f9ee0" text-anchor="end" dy="1.1">At ABCC25</text><text x="90.56" y="224.6" transform="rotate(327.52 90.56 224.6)" fill="#6f9ee0" stroke="#6f9ee0" text-anchor="end" dy="1.1">At ABCC32</text><text x="88.82" y="221.81" transform="rotate(328.98 88.82 221.81)" fill="#6f9ee0" stroke="#6f9ee0" text-anchor="end" dy="1.1">At ABCC39</text><text x="87.15" y="218.98" transform="rotate(330.43 87.15 218.98)" fill="#6f9ee0" stroke="#6f9ee0" text-anchor="end" dy="1.1">At ABCC6</text><text x="85.56" y="216.11" transform="rotate(331.88 85.56 216.11)" fill="#6f9ee0" stroke="#6f9ee0" text-anchor="end" dy="1.1">At ABCC13</text><text x="84.03" y="213.2" transform="rotate(333.32 84.03 213.2)" fill="#6f9ee0" stroke="#6f9ee0" text-anchor="end" dy="1.1">At ABCC20</text><text x="82.58" y="210.25" transform="rotate(334.77 82.58 210.25)" fill="#6f9ee0" stroke="#6f9ee0" text-anchor="end" dy="1.1">At ABCC27</text><text x="81.21" y="207.27" transform="rotate(336.23 81.21 207.27)" fill="#6f9ee0" stroke="#6f9ee0" text-anchor="end" dy="1.1">At ABCC34</text><text x="79.92" y="204.25" transform="rotate(337.68 79.92 204.25)" fill="#6f9ee0" stroke="#6f9ee0" text-anchor="end" dy="1.1">At ABCC1</text><text x="78.7" y="201.2" transform="rotate(339.12 78.7 201.2)" fill="#6f9ee0" stroke="#6f9ee0" text-anchor="end" dy="1.1">At ABCC8</text><text x="77.56" y="198.13" transform="rotate(340.57 77.56 198.13)" fill="#6f9ee0" stroke="#6f9ee0" text-anchor="end" dy="1.1">At ABCC15</text><text x="76.5" y="195.02" transform="rotate(342.02 76.5 195.02)" fill="#6f9ee0" stroke="#6f9ee0" text-anchor="end" dy="1.1">At ABCC22</text><text x="75.51" y="191.89" transform="rotate(343.48 75.51 191.89)" fill="#6f9ee0" stroke="#6f9ee0" text-anchor="end" dy="1.1">At ABCC29</text><text x="74.61" y="188.74" transform="rotate(344.93 74.61 188.74)" fill="#6f9ee0" stroke="#6f9ee0" text-anchor="end" dy="1.1">At ABCC36</text><text x="73.79" y="185.56" transform="rotate(346.38 73.79 185.56)" fill="#6f9ee0" stroke="#6f9ee0" text-anchor="end" dy="1.1">At ABCC3</text><text x="73.05" y="182.37" transform="rotate(347.82 73.05 182.37)" fill="#6f9ee0" stroke="#6f9ee0" text-anchor="end" dy="1.1">At ABCC10</text><text x="72.4" y="179.15" transform="rotate(349.27 72.4 179.15)" fill="#6f9ee0" stroke="#6f9ee0" text-anchor="end" dy="1.1">At ABCC17</text><text x="71.82" y="175.93" transform="rotate(350.73 71.82 175.93)" fill="#6f9ee0" stroke="#6f9ee0" text-anchor="end" dy="1.1">At ABCC24</text><text x="71.33" y="172.68" transform="rotate(352.18 71.33 172.68)" fill="#6f9ee0" stroke="#6f9ee0" text-anchor="end" dy="1.1">At ABCC31</text><text x="70.92" y="169.43" transform="rotate(353.62 70.92 169.43)" fill="#6f9ee0" stroke="#6f9ee0" text-anchor="end" dy="1.1">At ABCC38</text><text x="70.59" y="166.17" transform="rotate(355.07 70.59 166.17)" fill="#6f9ee0" stroke="#6f9ee0" text-anchor="end" dy="1.1">At ABCC5</text><text x="70.35" y="162.9" transform="rotate(356.52 70.35 162.9)" fill="#6f9ee0" stroke="#6f9ee0" text-anchor="end" dy="1.1">At ABCC12</text><text x="70.19" y="159.63" transform="rotate(357.97 70.19 159.63)" fill="#6f9ee0" stroke="#6f9ee0" text-anchor="end" dy="1.1">At ABCC19</text><text x="70.12" y="156.32" transform="rotate(359.44 70.12 156.32)" fill="#4a9460" stroke="#4a9460" text-anchor="end" dy="1.1">At ABCB4</text><text x="70.13" y="152.99" transform="rotate(360.91 70.13 152.99)" fill="#4a9460" stroke="#4a9460" text-anchor="end" dy="1.1">At ABCB11</text><text x="70.23" y="149.65" transform="rotate(362.39 70.23 149.65)" fill="#4a9460" stroke="#4a9460" text-anchor="end" dy="1.1">At ABCB18</text><text x="70.41" y="146.32" transform="rotate(363.86 70.41 146.32)" fill="#4a9460" stroke="#4a9460" text-anchor="end" dy="1.1">At ABCB25</text><text x="70.67" y="143.1" transform="rotate(365.29 70.67 143.1)" fill="#4a9460" stroke="#4a9460" text-anchor="end" dy="1.1">At ABCB4</text><text x="71" y="139.98" transform="rotate(366.68 71 139.98)" fill="#4a9460" stroke="#4a9460" text-anchor="end" dy="1.1">At ABCB11</text><text x="71.41" y="136.86" transform="rotate(368.07 71.41 136.86)" fill="#4a9460" stroke="#4a9460" text-anchor="end" dy="1.1">At ABCB18</text><text x="71.89" y="133.76" transform="rotate(369.46 71.89 133.76)" fill="#4a9460" stroke="#4a9460" text-anchor="end" dy="1.1">At ABCB25</text><text x="72.45" y="130.67" transform="rotate(370.85 72.45 130.67)" fill="#4a9460" stroke="#4a9460" text-anchor="end" dy="1.1">At ABCB32</text><text x="73.08" y="127.59" transform="rotate(372.24 73.08 127.59)" fill="#4a9460" stroke="#4a9460" text-anchor="end" dy="1.1">At ABCB39</text><text x="73.79" y="124.53" transform="rotate(373.63 73.79 124.53)" fill="#4a9460" stroke="#4a9460" text-anchor="end" dy="1.1">At ABCB6</text><text x="74.58" y="121.49" transform="rotate(375.02 74.58 121.49)" fill="#4a9460" stroke="#4a9460" text-anchor="end" dy="1.1">At ABCB13</text><text x="75.44" y="118.47" transform="rotate(376.41 75.44 118.47)" fill="#4a9460" stroke="#4a9460" text-anchor="end" dy="1.1">At ABCB20</text><text x="76.38" y="115.43" transform="rotate(377.81 76.38 115.43)" fill="#4a9460" stroke="#4a9460" text-anchor="end" dy="1.1">At ABCB4</text><text x="77.41" y="112.39" transform="rotate(379.23 77.41 112.39)" fill="#4a9460" stroke="#4a9460" text-anchor="end" dy="1.1">At ABCB11</text><text x="78.52" y="109.37" transform="rotate(380.65 78.52 109.37)" fill="#4a9460" stroke="#4a9460" text-anchor="end" dy="1.1">At ABCB18</text><text x="79.7" y="106.37" transform="rotate(382.07 79.7 106.37)" fill="#4a9460" stroke="#4a9460" text-anchor="end" dy="1.1">At ABCB25</text><text x="80.95" y="103.41" transform="rotate(383.49 80.95 103.41)" fill="#4a9460" stroke="#4a9460" text-anchor="end" dy="1.1">At ABCB32</text><text x="82.28" y="100.48" transform="rotate(384.92 82.28 100.48)" fill="#4a9460" stroke="#4a9460" text-anchor="end" dy="1.1">At ABCB39</text><text x="83.69" y="97.59" transform="rotate(386.34 83.69 97.59)" fill="#4a9460" stroke="#4a9460" text-anchor="end" dy="1.1">At ABCB6</text><text x="85.16" y="94.72" transform="rotate(387.76 85.16 94.72)" fill="#4a9460" stroke="#4a9460" text-anchor="end" dy="1.1">At ABCB13</text><text x="86.71" y="91.9" transform="rotate(389.18 86.71 91.9)" fill="#4a9460" stroke="#4a9460" text-anchor="end" dy="1.1">At ABCB20</text><text x="88.33" y="89.11" transform="rotate(390.6 88.33 89.11)" fill="#4a9460" stroke="#4a9460" text-anchor="end" dy="1.1">At ABCB27</text><text x="90.01" y="86.37" transform="rotate(392.02 90.01 86.37)" fill="#4a9460" stroke="#4a9460" text-anchor="end" dy="1.1">At ABCB34</text><text x="91.76" y="83.67" transform="rotate(393.44 91.76 83.67)" fill="#4a9460" stroke="#4a9460" text-anchor="end" dy="1.1">At ABCB1</text><text x="93.59" y="81.01" transform="rotate(394.86 93.59 81.01)" fill="#4a9460" stroke="#4a9460" text-anchor="end" dy="1.1">At ABCB8</text><text x="95.47" y="78.4" transform="rotate(396.28 95.47 78.4)" fill="#4a9460" stroke="#4a9460" text-anchor="end" dy="1.1">At ABCB15</text><text x="97.42" y="75.83" transform="rotate(397.71 97.42 75.83)" fill="#4a9460" stroke="#4a9460" text-anchor="end" dy="1.1">At ABCB22</text><text x="99.44" y="73.31" transform="rotate(399.13 99.44 73.31)" fill="#4a9460" stroke="#4a9460" text-anchor="end" dy="1.1">At ABCB29</text><text x="101.52" y="70.85" transform="rotate(400.55 101.52 70.85)" fill="#4a9460" stroke="#4a9460" text-anchor="end" dy="1.1">At ABCB36</text><text x="103.66" y="68.43" transform="rotate(401.97 103.66 68.43)" fill="#4a9460" stroke="#4a9460" text-anchor="end" dy="1.1">At ABCB3</text><text x="105.86" y="66.07" transform="rotate(403.39 105.86 66.07)" fill="#4a9460" stroke="#4a9460" text-anchor="end" dy="1.1">At ABCB10</text><text x="108.11" y="63.76" transform="rotate(404.81 108.11 63.76)" fill="#4a9460" stroke="#4a9460" text-anchor="end" dy="1.1">At ABCB17</text><text x="110.43" y="61.51" transform="rotate(406.23 110.43 61.51)" fill="#4a9460" stroke="#4a9460" text-anchor="end" dy="1.1">At ABCB24</text><text x="112.8" y="59.32" transform="rotate(407.65 112.8 59.32)" fill="#4a9460" stroke="#4a9460" text-anchor="end" dy="1.1">At ABCB31</text><text x="115.22" y="57.18" transform="rotate(409.07 115.22 57.18)" fill="#4a9460" stroke="#4a9460" text-anchor="end" dy="1.1">At ABCB38</text><text x="117.7" y="55.11" transform="rotate(410.49 117.7 55.11)" fill="#4a9460" stroke="#4a9460" text-anchor="end" dy="1.1">At ABCB5</text><text x="120.23" y="53.1" transform="rotate(411.92 120.23 53.1)" fill="#4a9460" stroke="#4a9460" text-anchor="end" dy="1.1">At ABCB12</text><text x="122.81" y="51.15" transform="rotate(413.34 122.81 51.15)" fill="#4a9460" stroke="#4a9460" text-anchor="end" dy="1.1">At ABCB19</text><text x="125.43" y="49.26" transform="rotate(414.76 125.43 49.26)" fill="#4a9460" stroke="#4a9460" text-anchor="end" dy="1.1">At ABCB26</text><text x="128.1" y="47.44" transform="rotate(416.18 128.1 47.44)" fill="#4a9460" stroke="#4a9460" text-anchor="end" dy="1.1">At ABCB33</text><text x="130.82" y="45.69" transform="rotate(417.6 130.82 45.69)" fill="#4a9460" stroke="#4a9460" text-anchor="end" dy="1.1">At ABCB40</text><text x="133.58" y="44" transform="rotate(419.02 133.58 44)" fill="#4a9460" stroke="#4a9460" text-anchor="end" dy="1.1">At ABCB7</text><text x="136.38" y="42.38" transform="rotate(420.44 136.38 42.38)" fill="#4a9460" stroke="#4a9460" text-anchor="end" dy="1.1">At ABCB14</text><text x="139.22" y="40.83" transform="rotate(421.86 139.22 40.83)" fill="#4a9460" stroke="#4a9460" text-anchor="end" dy="1.1">At ABCB21</text><text x="142.1" y="39.35" transform="rotate(423.28 142.1 39.35)" fill="#4a9460" stroke="#4a9460" text-anchor="end" dy="1.1">At ABCB28</text><text x="145.02" y="37.94" transform="rotate(424.71 145.02 37.94)" fill="#4a9460" stroke="#4a9460" text-anchor="end" dy="1.1">At ABCB35</text><text x="147.97" y="36.6" transform="rotate(426.13 147.97 36.6)" fill="#4a9460" stroke="#4a9460" text-anchor="end" dy="1.1">At ABCB2</text><text x="150.95" y="35.34" transform="rotate(427.55 150.95 35.34)" fill="#4a9460" stroke="#4a9460" text-anchor="end" dy="1.1">At ABCB9</text><text x="153.96" y="34.15" transform="rotate(428.97 153.96 34.15)" fill="#4a9460" stroke="#4a9460" text-anchor="end" dy="1.1">At ABCB16</text><text x="157" y="33.04" transform="rotate(430.39 157 33.04)" fill="#4a9460" stroke="#4a9460" text-anchor="end" dy="1.1">At ABCB23</text></g>
<path d="M200.67 2.16A156.1 152.83 0 0 1 305.53 41.77" stroke="#dc3fe0" stroke-width="3" fill="none"/>
<path d="M305.53 41.77A156.1 152.83 0 0 1 326.31 245.68" stroke="#ea5a62" stroke-width="3" fill="none"/>
<path d="M326.31 245.68A156.1 152.83 0 0 1 321.81 251.38" stroke="#4b2a82" stroke-width="3" fill="none"/>
<path d="M321.81 251.38A156.1 152.83 0 0 1 317.58 256.26" stroke="#b5135f" stroke-width="3" fill="none"/>
<path d="M317.58 256.26A156.1 152.83 0 0 1 267.63 293.05" stroke="#f07ab4" stroke-width="3" fill="none"/>
<path d="M267.63 293.05A156.1 152.83 0 0 1 182.46 306.78" stroke="#52238a" stroke-width="3" fill="none"/>
<path d="M182.46 306.78A156.1 152.83 0 0 1 166.35 304.08" stroke="#ea6a50" stroke-width="3" fill="none"/>
<path d="M166.35 304.08A156.1 152.83 0 0 1 129.56 291.04" stroke="#40e0e0" stroke-width="3" fill="none"/>
<path d="M129.56 291.04A156.1 152.83 0 0 1 115.2 282.87" stroke="#6f95c8" stroke-width="3" fill="none"/>
<path d="M115.2 282.87A156.1 152.83 0 0 1 95.61 268.03" stroke="#4d2680" stroke-width="3" fill="none"/>
<path d="M95.61 268.03A156.1 152.83 0 0 1 44.61 158.46" stroke="#2a80dd" stroke-width="3" fill="none"/>
<path d="M44.6 157.99A156.1 152.83 0 0 1 45.04 143.2" stroke="#157a35" stroke-width="3" fill="none"/>
<path d="M45.11 142.27A156.1 152.83 0 0 1 51.33 110.5" stroke="#157a35" stroke-width="3" fill="none"/>
<path d="M51.61 109.61A156.1 152.83 0 0 1 149.66 10.55" stroke="#157a35" stroke-width="3" fill="none"/>
<g font-family="Liberation Sans, sans-serif" font-size="8.2" font-style="italic" font-weight="bold" letter-spacing="1.7"><text transform="translate(262 8.7) scale(0.61 1)" fill="#c06cd0">ABCG (PDR)</text><text transform="translate(360.3 134.7) scale(0.61 1)" fill="#e0606e">ABCG (WBC)</text><text transform="translate(328.4 255.6) scale(0.61 1)" fill="#5a3a8a">ABCI</text><text transform="translate(324 262.4) scale(0.61 1)" fill="#a8306e">ABCA (AOH)</text><text transform="translate(297 286) scale(0.61 1)" fill="#e0a0c8">ABCA(ATH)</text><text transform="translate(216 317) scale(0.61 1)" fill="#5a3a8a">ABCI</text><text transform="translate(162 316.7) scale(0.61 1)" fill="#f08070">ABCD</text><text transform="translate(132 310.5) scale(0.61 1)" fill="#40b8c0">ABCF</text><text transform="translate(104.6 300) scale(0.61 1)" fill="#90c8dc">ABCE</text><text transform="translate(88.5 288) scale(0.61 1)" fill="#62428e">ABCI</text><text transform="translate(39.5 234.5) scale(0.61 1)" fill="#5a8ad0">ABCC</text><text transform="translate(1.7 154) scale(0.61 1)" fill="#3d8b4f">ABCB (ATM)</text><text transform="translate(3.1 128.5) scale(0.61 1)" fill="#3d8b4f">ABCB (TAP)</text><text transform="translate(46.7 41.8) scale(0.61 1)" fill="#3d8b4f">ABCB (MDR)</text></g>
</svg>
</body></html>
